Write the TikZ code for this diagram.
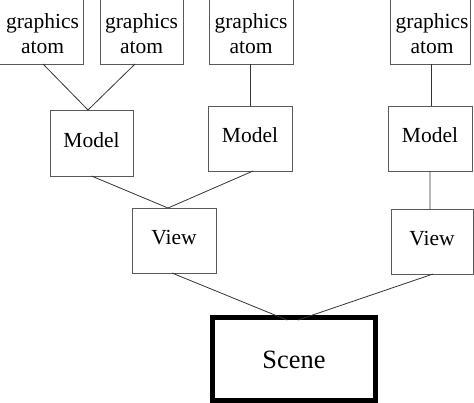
\documentclass[tikz,border=0pt]{standalone}
\usepackage{fontspec}
\setmainfont{Liberation Serif}
\begin{document}
\begin{tikzpicture}[x=1bp,y=-1bp,
  box/.style={draw=black!65,line width=0.8bp,rectangle,inner sep=0pt,outer sep=0pt,fill=none},
  lbl/.style={font=\fontsize{21.5bp}{25bp}\selectfont,align=center,inner sep=0pt},
  one/.style={font=\fontsize{21.5bp}{25bp}\selectfont,text height=14.6bp,text depth=6.6bp,inner sep=0pt},
  conn/.style={draw=black!80,line width=0.8bp}]
\useasboundingbox (0,0) rectangle (474,402);
% graphics atoms (tops run off the picture)
\node[box,minimum width=84bp,minimum height=84bp,anchor=south] (a1) at (41,64) {};
\node[box,minimum width=83bp,minimum height=84bp,anchor=south] (a2) at (141.5,64) {};
\node[box,minimum width=84bp,minimum height=84bp,anchor=south] (a3) at (251,64) {};
\node[box,minimum width=80bp,minimum height=84bp,anchor=south] (a4) at (430,64) {};
\node[lbl] (t1) at (42.5,33.8) {graphics\\atom};
\node[lbl] (t2) at (141.5,33.8) {graphics\\atom};
\node[lbl] (t3) at (251,33.8) {graphics\\atom};
\node[lbl] (t4) at (432,33.8) {graphics\\atom};
% models
\node[box,one,minimum width=83bp,minimum height=66bp] (m1) at (91.5,143) {Model};
\node[box,one,minimum width=84bp,minimum height=65bp] (m2) at (250,138.5) {Model};
\node[box,one,minimum width=84bp,minimum height=65bp] (m3) at (430,138.5) {Model};
% views
\node[box,one,minimum width=84bp,minimum height=65bp] (v1) at (174,240.5) {View};
\node[box,one,minimum width=82bp,minimum height=65bp] (v2) at (432,241.5) {View};
% scene
\node[draw=black,line width=5bp,rectangle,inner sep=0pt,outer sep=0pt,
  minimum width=163bp,minimum height=82.5bp,
  font=\fontsize{26.4bp}{30bp}\selectfont,text height=24.8bp,text depth=5.8bp] (s) at (294,358.75) {Scene};
% connectors
\draw[conn] ([xshift=2bp]a1.south) -- ([xshift=-3.5bp]m1.north);
\draw[conn] ([xshift=-6.5bp]a2.south) -- ([xshift=-3.5bp]m1.north);
\draw[conn] ([xshift=-1bp]a3.south) -- (m2.north);
\draw[conn] ([xshift=1bp]a4.south) -- ([xshift=1bp]m3.north);
\draw[conn] (m1.south) -- ([xshift=-6bp]v1.north);
\draw[conn] ([xshift=3bp]m2.south) -- ([xshift=-6bp]v1.north);
\draw[conn] (m3.south) -- ([xshift=-2bp]v2.north);
\draw[conn] ([xshift=-2bp]v1.south) -- ([xshift=-7bp,yshift=-2.5bp]s.north);
\draw[conn] ([xshift=1bp]v2.south) -- ([xshift=4bp,yshift=-2.5bp]s.north);
\end{tikzpicture}
\end{document}
